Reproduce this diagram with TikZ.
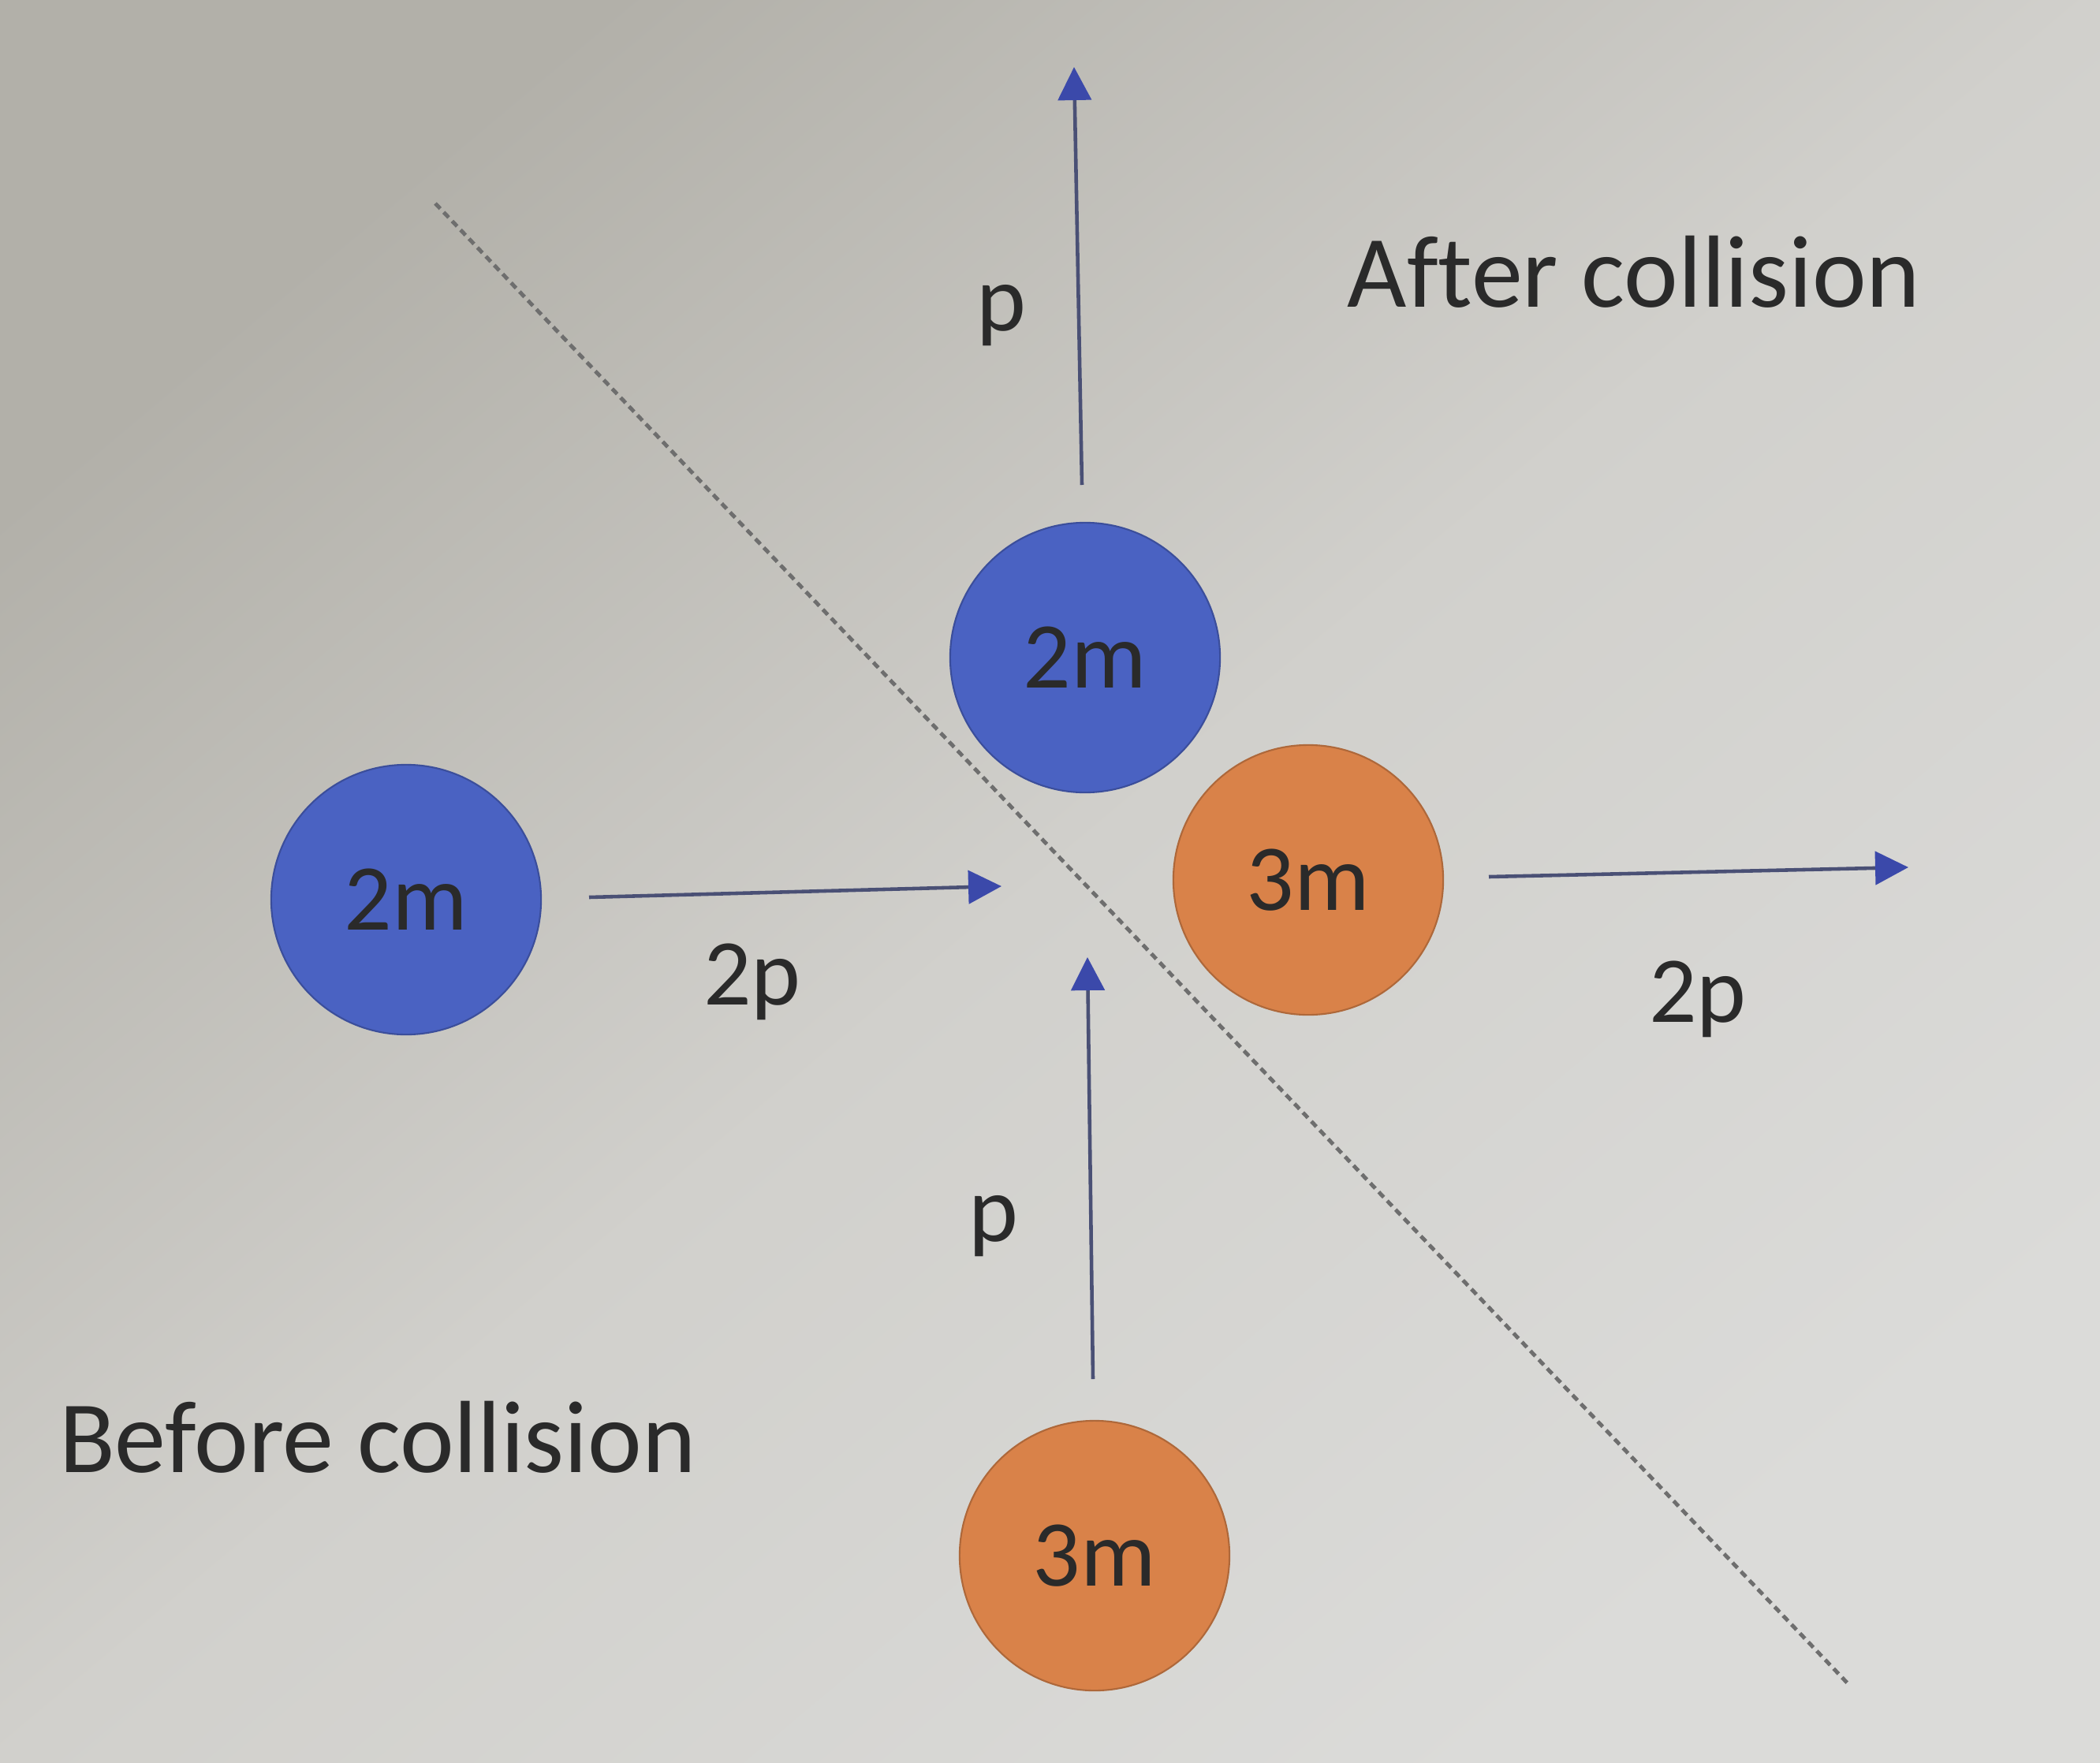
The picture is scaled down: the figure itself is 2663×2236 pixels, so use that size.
\documentclass[tikz,border=0pt]{standalone}
\usepackage{fontspec}
\setmainfont{Carlito}[Ligatures=NoCommon]
\usetikzlibrary{arrows.meta}
\definecolor{bgA}{HTML}{B2B0A9}
\definecolor{bgM}{HTML}{D1D0CC}
\definecolor{bgB}{HTML}{DBDBD9}
\definecolor{ballblue}{HTML}{4A62C2}
\definecolor{ballorange}{HTML}{D98249}
\definecolor{arrowline}{HTML}{4A5075}
\definecolor{arrowhead}{HTML}{3B49AA}
\definecolor{txt}{HTML}{2A2A2A}
\definecolor{dash}{HTML}{6E6E6E}
\begin{document}
\begin{tikzpicture}[x=0.01cm,y=-0.01cm,
  ball/.style={circle,minimum size=3.42cm,inner sep=0pt,text=txt,font=\fontsize{34}{40}\selectfont},
  blueball/.style={ball,fill=ballblue,draw=ballblue!80!black,line width=0.6pt},
  orangeball/.style={ball,fill=ballorange,draw=ballorange!80!black,line width=0.6pt},
  lbl/.style={text=txt,font=\fontsize{34}{40}\selectfont},
  title/.style={text=txt,font=\fontsize{37}{44}\selectfont},
  mom/.style={draw=arrowline,line width=1.3pt,-{Triangle[length=0.42cm,width=0.42cm,fill=arrowhead,color=arrowhead]}},
  sep/.style={draw=dash,line width=1.4pt,dash pattern=on 2.6pt off 1.8pt}]
\shade[top color=bgA,bottom color=bgB,middle color=bgM,shading angle=40] (0,0) rectangle (2663,2236);
\useasboundingbox (0,0) rectangle (2663,2236);
% separator
\coordinate (s1) at (552,258);
\coordinate (s2) at (2344,2136);
\draw[sep] (s1) -- (s2);
% balls
\node[blueball] (b1) at (515,1141) {2m};
\node[blueball] (b2) at (1376,834) {2m};
\node[orangeball] (o1) at (1659,1116) {3m};
\node[orangeball] (o2) at (1388,1973) {3m};
% arrows
\coordinate (a1s) at (747,1138); \coordinate (a1e) at (1270,1124);
\coordinate (a2s) at (1386,1749); \coordinate (a2e) at (1379,1214);
\coordinate (a3s) at (1372,615); \coordinate (a3e) at (1362,85);
\coordinate (a4s) at (1888,1112); \coordinate (a4e) at (2420,1100);
\draw[mom] (a1s) -- (a1e);
\draw[mom] (a2s) -- (a2e);
\draw[mom] (a3s) -- (a3e);
\draw[mom] (a4s) -- (a4e);
% labels
\node[lbl] (l1) at (954,1245) {2p};
\node[lbl] (l2) at (1260,1555) {p};
\node[lbl] (l3) at (1270,400) {p};
\node[lbl] (l4) at (2153,1267) {2p};
\node[title] (t1) at (2072,345) {Af\kern0pt ter collision};
\node[title] (t2) at (479,1823) {Before collision};
\end{tikzpicture}
\end{document}
